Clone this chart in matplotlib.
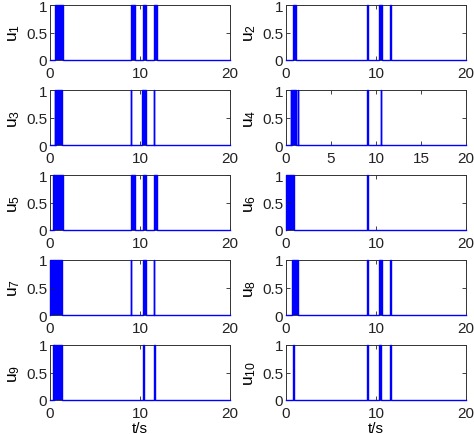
import numpy as np
import matplotlib.pyplot as plt

plt.rcParams['font.family'] = ['Liberation Sans', 'DejaVu Sans']
plt.rcParams['mathtext.default'] = 'regular'

t_end = 20.0

# 各控制量 u1..u10 的导通区间 (开始, 结束)，单位 s
u1_on = [(0.55, 1.40), (8.96, 9.40), (10.30, 10.66), (11.52, 11.92)]
u2_on = [(0.74, 1.11), (9.02, 9.08), (10.30, 10.62), (11.57, 11.62)]
u3_on = [(0.54, 0.59), (0.67, 1.33), (8.98, 9.04), (10.26, 10.63), (11.53, 11.58)]
u4_on = [(0.54, 0.59), (0.67, 1.11), (1.28, 1.33), (9.05, 9.10), (10.50, 10.55)]
u5_on = [(0.35, 0.40), (0.48, 1.41), (9.00, 9.41), (10.30, 10.67), (11.56, 11.93)]
u6_on = [(0.00, 0.89), (9.05, 9.10)]
u7_on = [(0.00, 1.37), (8.98, 9.04), (10.30, 10.63), (11.54, 11.59)]
u8_on = [(0.63, 1.37), (9.02, 9.07), (10.30, 10.64), (11.57, 11.62)]
u9_on = [(0.35, 0.40), (0.48, 1.37), (10.35, 10.40), (11.57, 11.62)]
u10_on = [(0.79, 0.84), (9.05, 9.10), (10.37, 10.60), (11.57, 11.62)]

signals = [u1_on, u2_on, u3_on, u4_on, u5_on, u6_on, u7_on, u8_on, u9_on, u10_on]
labels = ['$u_{%d}$' % (i + 1) for i in range(10)]

fig = plt.figure(figsize=(4.74, 4.35), dpi=100)

W, H = 474.0, 435.0
col_x = [50, 286]
ax_w, ax_h = 180, 55

for k, on in enumerate(signals):
    r, c = k // 2, k % 2
    ax = fig.add_axes([col_x[c] / W, 1 - (61 + 85 * r) / H, ax_w / W, ax_h / H])

    # 由区间构造阶跃信号
    t = [0.0]
    u = [0.0]
    for s, e in on:
        t += [s, s, e, e]
        u += [0, 1, 1, 0]
    t.append(t_end)
    u.append(0.0)

    ax.fill_between(t, u, 0, color='blue', lw=0)
    ax.plot(t, u, color='blue', lw=1.0, clip_on=False, zorder=3)

    ax.set_xlim(0, t_end)
    ax.set_ylim(0, 1)
    if k == 3:
        ax.set_xticks([0, 5, 10, 15, 20])
    else:
        ax.set_xticks([0, 10, 20])
    ax.set_yticks([0, 0.5, 1])
    ax.set_yticklabels(['0', '0.5', '1'])
    ax.tick_params(direction='in', top=True, right=True, length=3, width=0.6,
                   labelsize=11, colors='#222222')
    ax.tick_params(axis='y', pad=2)
    ax.tick_params(axis='x', pad=4)
    for sp in ax.spines.values():
        sp.set_linewidth(0.7)
        sp.set_color('#333333')
    ax.set_ylabel(labels[k], fontsize=12.5, labelpad=3)
    if r == 4:
        ax.set_xlabel('t/s', fontsize=11, labelpad=1)

fig.savefig('out.png', dpi=100)
